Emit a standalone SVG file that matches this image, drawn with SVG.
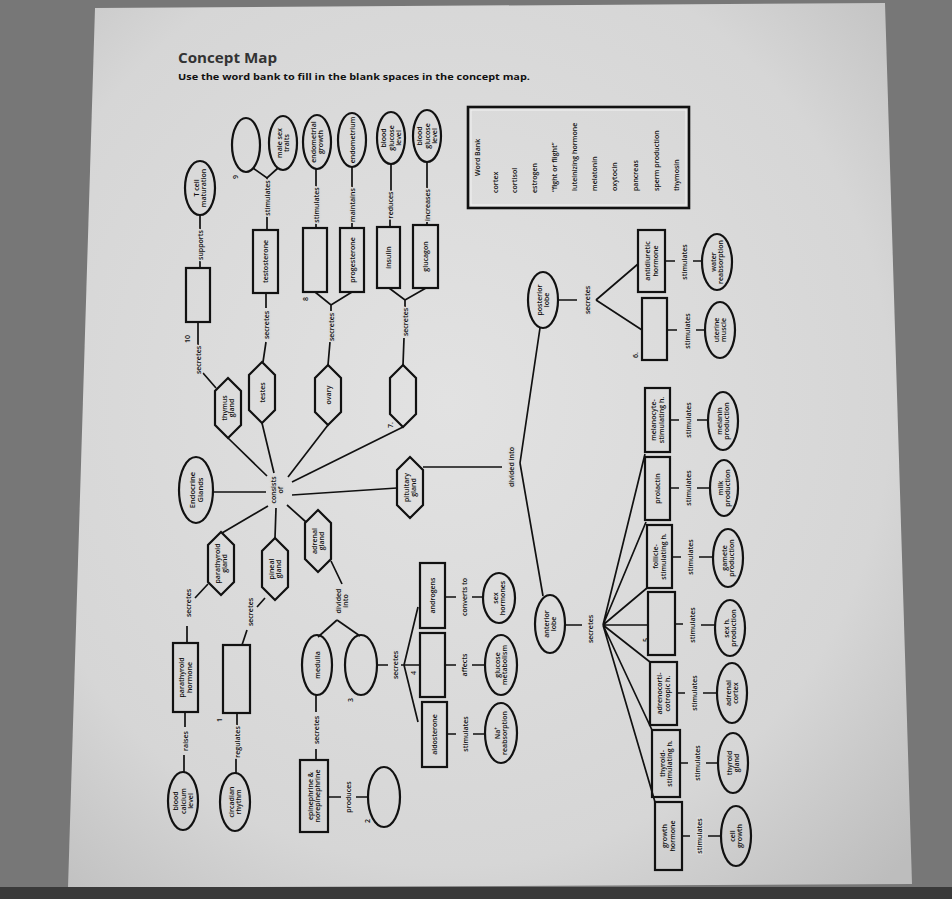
<svg xmlns="http://www.w3.org/2000/svg" width="952" height="899" viewBox="0 0 952 899">
<defs>
<radialGradient id="paper" cx="0.45" cy="0.45" r="0.75">
<stop offset="0" stop-color="#e2e2e2"/>
<stop offset="0.7" stop-color="#d6d6d6"/>
<stop offset="1" stop-color="#bdbdbd"/>
</radialGradient>
<style>
.n{fill:none;stroke:#111;stroke-width:2.2}
.c{fill:none;stroke:#111;stroke-width:1.7}
.t{font-family:"Open Sans","Liberation Sans",sans-serif;font-size:7px;font-weight:600;fill:#111;text-anchor:middle}
.k{font-family:"Open Sans","Liberation Sans",sans-serif;font-size:7px;font-weight:600;fill:#111;text-anchor:middle;stroke:#dadada;stroke-width:3;paint-order:stroke}
.w{font-family:"Open Sans","Liberation Sans",sans-serif;font-size:7px;font-weight:600;fill:#111;text-anchor:start}
</style>
</defs>
<rect x="0" y="0" width="952" height="899" fill="#777"/>
<polygon points="95,8 885,3 912,884 68,888" fill="url(#paper)"/>
<rect x="0" y="887" width="952" height="12" fill="#3a3a3a"/>

<text x="178" y="63" font-family="'Open Sans','Liberation Sans',sans-serif" font-size="14" font-weight="bold" fill="#333" textLength="99" lengthAdjust="spacingAndGlyphs">Concept Map</text>
<text x="178" y="80" font-family="'Open Sans','Liberation Sans',sans-serif" font-size="9.5" font-weight="bold" fill="#111" textLength="352" lengthAdjust="spacingAndGlyphs">Use the word bank to fill in the blank spaces in the concept map.</text>

<g id="connectors">
<path class="c" d="M200,215V232M200,258V268M198,322V346M203,373L216,388"/>
<path class="c" d="M253,168L267,178L278,168M267,178V182M267,214V230M266,293V308M266,342L263,362"/>
<path class="c" d="M316,169V190M316,221V228M352,167V192M352,219V228M315,292L331,305L352,292M331,305V311M330,342L328,365"/>
<path class="c" d="M391,164V193M390,217V227M427,162V191M427,219V225M389,288L405,300L426,288M405,300V307M404,338L403,365"/>
<path class="c" d="M213,492H266M228,438L267,476M262,423L274,473M328,425L288,477M403,427L292,482M292,495L397,488M268,506L222,533M276,508L275,538M287,505L306,522"/>
<path class="c" d="M208,584L195,598M187,626V643M265,598L257,607M247,630L242,645M331,561L342,584M337,620L318,637M337,620L360,636"/>
<path class="c" d="M185,713V727M184,755V772M237,713V727M236,756V773M316,695V712M316,749V760M328,797H341M356,797H368"/>
<path class="c" d="M377,665H388M401,665H404M418,607L404,665L418,722M404,665H420"/>
<path class="c" d="M445,597H456M472,597H483M445,665H456M472,665H485M447,734H456M473,734H485"/>
<path class="c" d="M423,467H502M520,463L540,328M520,463L543,596"/>
<path class="c" d="M558,300H577M596,300L638,264M596,300L642,330M665,261H675M693,261H702M667,330H677M696,330H705"/>
<path class="c" d="M565,625H582M603,625L645,454M603,625L646,522M603,625L647,588M603,625H648M603,625L650,662M603,625L652,730M603,625L655,802"/>
<path class="c" d="M670,420H679M697,420H708M670,488H679M697,488H710M672,557H681M699,557H713M675,624H683M701,625H715M677,693H685M703,693H717M680,763H688M706,763H718M682,836H690M708,836H722"/>
</g>

<g id="word-bank">
<rect x="468" y="107" width="221" height="101" fill="none" stroke="#111" stroke-width="2.6"/>
<rect x="471" y="110" width="215" height="95" fill="none" stroke="#f2f2f2" stroke-width="1"/>
<text class="w" transform="translate(480,176) rotate(-90)">Word Bank</text>
<text class="w" transform="translate(498,193) rotate(-90)">cortex</text>
<text class="w" transform="translate(517,193) rotate(-90)">cortisol</text>
<text class="w" transform="translate(537,193) rotate(-90)">estrogen</text>
<text class="w" transform="translate(557,192) rotate(-90)">“fight or flight”</text>
<text class="w" transform="translate(577,191) rotate(-90)">luteinizing hormone</text>
<text class="w" transform="translate(597,191) rotate(-90)">melatonin</text>
<text class="w" transform="translate(617,191) rotate(-90)">oxytocin</text>
<text class="w" transform="translate(638,191) rotate(-90)">pancreas</text>
<text class="w" transform="translate(659,191) rotate(-90)">sperm production</text>
<text class="w" transform="translate(679,191) rotate(-90)">thymosin</text>
</g>

<g id="tcell"><ellipse class="n" cx="200" cy="188" rx="15" ry="27"/><text class="t" transform="translate(200,188) rotate(-90)"><tspan x="0" y="-1.3">T cell</tspan><tspan x="0" y="6.2">maturation</tspan></text></g>
<g id="blank9"><ellipse class="n" cx="246" cy="145" rx="14" ry="27"/></g>
<g id="malesex"><ellipse class="n" cx="283" cy="143" rx="14" ry="27"/><text class="t" transform="translate(283,143) rotate(-90)"><tspan x="0" y="-1.3">male sex</tspan><tspan x="0" y="6.2">traits</tspan></text></g>
<g id="endogrowth"><ellipse class="n" cx="317" cy="142" rx="14" ry="27"/><text class="t" transform="translate(317,142) rotate(-90)"><tspan x="0" y="-1.3">endometrial</tspan><tspan x="0" y="6.2">growth</tspan></text></g>
<g id="endometrium"><ellipse class="n" cx="352" cy="140" rx="14" ry="27"/><text class="t" transform="translate(352,140) rotate(-90)"><tspan x="0" y="2.5">endometrium</tspan></text></g>
<g id="bglevel1"><ellipse class="n" cx="391" cy="138" rx="14" ry="26"/><text class="t" transform="translate(391,138) rotate(-90)"><tspan x="0" y="-5">blood</tspan><tspan x="0" y="2.5">glucose</tspan><tspan x="0" y="10">level</tspan></text></g>
<g id="bglevel2"><ellipse class="n" cx="427" cy="136" rx="14" ry="26"/><text class="t" transform="translate(427,136) rotate(-90)"><tspan x="0" y="-5">blood</tspan><tspan x="0" y="2.5">glucose</tspan><tspan x="0" y="10">level</tspan></text></g>

<g id="box10"><rect class="n" x="186" y="268" width="24" height="54"/></g>
<g id="testosterone"><rect class="n" x="253" y="230" width="25" height="63"/><text class="t" transform="translate(265.5,261.5) rotate(-90)"><tspan x="0" y="2.5">testosterone</tspan></text></g>
<g id="box8"><rect class="n" x="303" y="228" width="24" height="64"/></g>
<g id="progesterone"><rect class="n" x="340" y="228" width="24" height="64"/><text class="t" transform="translate(352,260) rotate(-90)"><tspan x="0" y="2.5">progesterone</tspan></text></g>
<g id="insulin"><rect class="n" x="377" y="227" width="23" height="61"/><text class="t" transform="translate(388.5,257.5) rotate(-90)"><tspan x="0" y="2.5">insulin</tspan></text></g>
<g id="glucagon"><rect class="n" x="413" y="225" width="25" height="63"/><text class="t" transform="translate(425.5,256.5) rotate(-90)"><tspan x="0" y="2.5">glucagon</tspan></text></g>

<g id="thymus"><polygon class="n" points="228,378 241,391 241,425 228,438 215,425 215,391"/><text class="t" transform="translate(228,408) rotate(-90)"><tspan x="0" y="-1.3">thymus</tspan><tspan x="0" y="6.2">gland</tspan></text></g>
<g id="testes"><polygon class="n" points="262,362 275,375 275,410 262,423 249,410 249,375"/><text class="t" transform="translate(262,392.5) rotate(-90)"><tspan x="0" y="2.5">testes</tspan></text></g>
<g id="ovary"><polygon class="n" points="328,365 341,378 341,412 328,425 315,412 315,378"/><text class="t" transform="translate(328,395) rotate(-90)"><tspan x="0" y="2.5">ovary</tspan></text></g>
<g id="hex7"><polygon class="n" points="403,365 416,378 416,414 403,427 390,414 390,378"/></g>
<g id="pituitary"><polygon class="n" points="410,457 423,470 423,505 410,518 397,505 397,470"/><text class="t" transform="translate(410,487.5) rotate(-90)"><tspan x="0" y="-1.3">pituitary</tspan><tspan x="0" y="6.2">gland</tspan></text></g>
<g id="parathyroidgland"><polygon class="n" points="221,532 234,545 234,582 221,595 208,582 208,545"/><text class="t" transform="translate(221,563.5) rotate(-90)"><tspan x="0" y="-1.3">parathyroid</tspan><tspan x="0" y="6.2">gland</tspan></text></g>
<g id="pineal"><polygon class="n" points="275,538 288,551 288,587 275,600 262,587 262,551"/><text class="t" transform="translate(275,569) rotate(-90)"><tspan x="0" y="-1.3">pineal</tspan><tspan x="0" y="6.2">gland</tspan></text></g>
<g id="adrenal"><polygon class="n" points="318,510 331,523 331,559 318,572 305,559 305,523"/><text class="t" transform="translate(318,541) rotate(-90)"><tspan x="0" y="-1.3">adrenal</tspan><tspan x="0" y="6.2">gland</tspan></text></g>

<g id="endocrine"><ellipse class="n" cx="196" cy="490" rx="17" ry="33"/><text class="t" transform="translate(196,490) rotate(-90)" style="font-size:7.5px"><tspan x="0" y="-1.5">Endocrine</tspan><tspan x="0" y="6.5">Glands</tspan></text></g>

<g id="pth"><rect class="n" x="173" y="643" width="25" height="69"/><text class="t" transform="translate(185.5,677.5) rotate(-90)"><tspan x="0" y="-1.3">parathyroid</tspan><tspan x="0" y="6.2">hormone</tspan></text></g>
<g id="box1"><rect class="n" x="223" y="645" width="27" height="68"/></g>
<g id="calcium"><ellipse class="n" cx="183" cy="801" rx="15" ry="29"/><text class="t" transform="translate(183,801) rotate(-90)"><tspan x="0" y="-5">blood</tspan><tspan x="0" y="2.5">calcium</tspan><tspan x="0" y="10">level</tspan></text></g>
<g id="circadian"><ellipse class="n" cx="235" cy="802" rx="15" ry="29"/><text class="t" transform="translate(235,802) rotate(-90)"><tspan x="0" y="-1.3">circadian</tspan><tspan x="0" y="6.2">rhythm</tspan></text></g>
<g id="medulla"><ellipse class="n" cx="317" cy="665" rx="15" ry="30"/><text class="t" transform="translate(317,665) rotate(-90)"><tspan x="0" y="2.5">medulla</tspan></text></g>
<g id="blank3"><ellipse class="n" cx="361" cy="665" rx="16" ry="30"/></g>
<g id="epinephrine"><rect class="n" x="300" y="760" width="28" height="72"/><text class="t" transform="translate(314,796) rotate(-90)"><tspan x="0" y="-1.3">epinephrine &amp;</tspan><tspan x="0" y="6.2">norepinephrine</tspan></text></g>
<g id="blank2"><ellipse class="n" cx="384" cy="797" rx="16" ry="30"/></g>

<g id="androgens"><rect class="n" x="420" y="563" width="25" height="65"/><text class="t" transform="translate(432.5,595.5) rotate(-90)"><tspan x="0" y="2.5">androgens</tspan></text></g>
<g id="box4"><rect class="n" x="420" y="633" width="25" height="64"/></g>
<g id="aldosterone"><rect class="n" x="422" y="702" width="25" height="65"/><text class="t" transform="translate(434.5,734.5) rotate(-90)"><tspan x="0" y="2.5">aldosterone</tspan></text></g>
<g id="sexhormones"><ellipse class="n" cx="499" cy="598" rx="16" ry="25"/><text class="t" transform="translate(499,598) rotate(-90)"><tspan x="0" y="-1.3">sex</tspan><tspan x="0" y="6.2">hormones</tspan></text></g>
<g id="glucosemet"><ellipse class="n" cx="501" cy="665" rx="16" ry="30"/><text class="t" transform="translate(501,665) rotate(-90)"><tspan x="0" y="-1.3">glucose</tspan><tspan x="0" y="6.2">metabolism</tspan></text></g>
<g id="nareabs"><ellipse class="n" cx="501" cy="733" rx="16" ry="30"/><text class="t" transform="translate(501,733) rotate(-90)"><tspan x="0" y="-1.3">Na<tspan dy="-2" style="font-size:5px">+</tspan></tspan><tspan x="0" y="6.2">reabsorption</tspan></text></g>

<g id="anterior"><ellipse class="n" cx="550" cy="624" rx="15" ry="29"/><text class="t" transform="translate(550,624) rotate(-90)"><tspan x="0" y="-1.3">anterior</tspan><tspan x="0" y="6.2">lobe</tspan></text></g>
<g id="posterior"><ellipse class="n" cx="543" cy="300" rx="15" ry="28"/><text class="t" transform="translate(543,300) rotate(-90)"><tspan x="0" y="-1.3">posterior</tspan><tspan x="0" y="6.2">lobe</tspan></text></g>

<g id="adh"><rect class="n" x="638" y="230" width="27" height="62"/><text class="t" transform="translate(651.5,261) rotate(-90)"><tspan x="0" y="-1.3">antidiuretic</tspan><tspan x="0" y="6.2">hormone</tspan></text></g>
<g id="box6"><rect class="n" x="642" y="298" width="25" height="62"/></g>
<g id="water"><ellipse class="n" cx="717" cy="262" rx="15" ry="28"/><text class="t" transform="translate(717,262) rotate(-90)"><tspan x="0" y="-1.3">water</tspan><tspan x="0" y="6.2">reabsorption</tspan></text></g>
<g id="uterine"><ellipse class="n" cx="720" cy="330" rx="15" ry="28"/><text class="t" transform="translate(720,330) rotate(-90)"><tspan x="0" y="-1.3">uterine</tspan><tspan x="0" y="6.2">muscle</tspan></text></g>

<g id="msh"><rect class="n" x="645" y="388" width="25" height="64"/><text class="t" transform="translate(657.5,420) rotate(-90)"><tspan x="0" y="-1.3">melanocyte-</tspan><tspan x="0" y="6.2">stimulating h.</tspan></text></g>
<g id="prolactin"><rect class="n" x="645" y="457" width="25" height="63"/><text class="t" transform="translate(657.5,488.5) rotate(-90)"><tspan x="0" y="2.5">prolactin</tspan></text></g>
<g id="fsh"><rect class="n" x="647" y="525" width="25" height="63"/><text class="t" transform="translate(659.5,556.5) rotate(-90)"><tspan x="0" y="-1.3">follicle-</tspan><tspan x="0" y="6.2">stimulating h.</tspan></text></g>
<g id="box5"><rect class="n" x="648" y="592" width="27" height="63"/></g>
<g id="acth"><rect class="n" x="650" y="662" width="27" height="63"/><text class="t" transform="translate(663.5,693.5) rotate(-90)"><tspan x="0" y="-1.3">adrenocorti-</tspan><tspan x="0" y="6.2">cotropic h.</tspan></text></g>
<g id="tsh"><rect class="n" x="652" y="730" width="28" height="67"/><text class="t" transform="translate(666,763.5) rotate(-90)"><tspan x="0" y="-1.3">thyroid-</tspan><tspan x="0" y="6.2">stimulating h.</tspan></text></g>
<g id="gh"><rect class="n" x="655" y="802" width="27" height="68"/><text class="t" transform="translate(668.5,836) rotate(-90)"><tspan x="0" y="-1.3">growth</tspan><tspan x="0" y="6.2">hormone</tspan></text></g>

<g id="melanin"><ellipse class="n" cx="723" cy="421" rx="15" ry="29"/><text class="t" transform="translate(723,421) rotate(-90)"><tspan x="0" y="-1.3">melanin</tspan><tspan x="0" y="6.2">production</tspan></text></g>
<g id="milk"><ellipse class="n" cx="724" cy="488" rx="14" ry="28"/><text class="t" transform="translate(724,488) rotate(-90)"><tspan x="0" y="-1.3">milk</tspan><tspan x="0" y="6.2">production</tspan></text></g>
<g id="gamete"><ellipse class="n" cx="728" cy="558" rx="15" ry="29"/><text class="t" transform="translate(728,558) rotate(-90)"><tspan x="0" y="-1.3">gamete</tspan><tspan x="0" y="6.2">production</tspan></text></g>
<g id="sexprod"><ellipse class="n" cx="730" cy="628" rx="15" ry="28"/><text class="t" transform="translate(730,628) rotate(-90)"><tspan x="0" y="-1.3">sex h.</tspan><tspan x="0" y="6.2">production</tspan></text></g>
<g id="adrcortex"><ellipse class="n" cx="732" cy="693" rx="15" ry="30"/><text class="t" transform="translate(732,693) rotate(-90)"><tspan x="0" y="-1.3">adrenal</tspan><tspan x="0" y="6.2">cortex</tspan></text></g>
<g id="thyroidgland"><ellipse class="n" cx="733" cy="763" rx="15" ry="30"/><text class="t" transform="translate(733,763) rotate(-90)"><tspan x="0" y="-1.3">thyroid</tspan><tspan x="0" y="6.2">gland</tspan></text></g>
<g id="cellgrowth"><ellipse class="n" cx="736" cy="836" rx="15" ry="30"/><text class="t" transform="translate(736,836) rotate(-90)"><tspan x="0" y="-1.3">cell</tspan><tspan x="0" y="6.2">growth</tspan></text></g>

<g id="connector-labels">
<text class="k" transform="translate(200,245) rotate(-90)" y="2.5">supports</text>
<text class="k" transform="translate(198,360) rotate(-90)" y="2.5">secretes</text>
<text class="k" transform="translate(267,198) rotate(-90)" y="2.5">stimulates</text>
<text class="k" transform="translate(266,325) rotate(-90)" y="2.5">secretes</text>
<text class="k" transform="translate(316,205) rotate(-90)" y="2.5">stimulates</text>
<text class="k" transform="translate(352,205) rotate(-90)" y="2.5">maintains</text>
<text class="k" transform="translate(331,327) rotate(-90)" y="2.5">secretes</text>
<text class="k" transform="translate(390,205) rotate(-90)" y="2.5">reduces</text>
<text class="k" transform="translate(427,205) rotate(-90)" y="2.5">increases</text>
<text class="k" transform="translate(405,322) rotate(-90)" y="2.5">secretes</text>
<text class="k" transform="translate(277,490) rotate(-90)"><tspan x="0" y="-1.3">consists</tspan><tspan x="0" y="6.2">of</tspan></text>
<text class="k" transform="translate(188,603) rotate(-90)" y="2.5">secretes</text>
<text class="k" transform="translate(250,612) rotate(-90)" y="2.5">secretes</text>
<text class="k" transform="translate(342,601) rotate(-90)"><tspan x="0" y="-1.3">divided</tspan><tspan x="0" y="6.2">into</tspan></text>
<text class="k" transform="translate(185,741) rotate(-90)" y="2.5">raises</text>
<text class="k" transform="translate(237,742) rotate(-90)" y="2.5">regulates</text>
<text class="k" transform="translate(316,730) rotate(-90)" y="2.5">secretes</text>
<text class="k" transform="translate(348,797) rotate(-90)" y="2.5">produces</text>
<text class="k" transform="translate(395,665) rotate(-90)" y="2.5">secretes</text>
<text class="k" transform="translate(464,597) rotate(-90)" y="2.5">converts to</text>
<text class="k" transform="translate(464,665) rotate(-90)" y="2.5">affects</text>
<text class="k" transform="translate(465,734) rotate(-90)" y="2.5">stimulates</text>
<text class="k" transform="translate(511,467) rotate(-90)" y="2.5">divided into</text>
<text class="k" transform="translate(587,300) rotate(-90)" y="2.5">secretes</text>
<text class="k" transform="translate(590,629) rotate(-90)" y="2.5">secretes</text>
<text class="k" transform="translate(684,262) rotate(-90)" y="2.5">stimulates</text>
<text class="k" transform="translate(687,331) rotate(-90)" y="2.5">stimulates</text>
<text class="k" transform="translate(688,420) rotate(-90)" y="2.5">stimulates</text>
<text class="k" transform="translate(688,488) rotate(-90)" y="2.5">stimulates</text>
<text class="k" transform="translate(690,557) rotate(-90)" y="2.5">stimulates</text>
<text class="k" transform="translate(692,625) rotate(-90)" y="2.5">stimulates</text>
<text class="k" transform="translate(694,693) rotate(-90)" y="2.5">stimulates</text>
<text class="k" transform="translate(697,763) rotate(-90)" y="2.5">stimulates</text>
<text class="k" transform="translate(699,836) rotate(-90)" y="2.5">stimulates</text>
</g>

<g id="numbers">
<text class="t" transform="translate(187,339) rotate(-90)" y="2.5">10</text>
<text class="t" transform="translate(235,177) rotate(-90)" y="2.5">9</text>
<text class="t" transform="translate(305,299) rotate(-90)" y="2.5">8</text>
<text class="t" transform="translate(390,425) rotate(-90)" y="2.5">7.</text>
<text class="t" transform="translate(219,720) rotate(-90)" y="2.5">1</text>
<text class="t" transform="translate(367,821) rotate(-90)" y="2.5">2</text>
<text class="t" transform="translate(350,700) rotate(-90)" y="2.5">3</text>
<text class="t" transform="translate(413,673) rotate(-90)" y="2.5">4</text>
<text class="t" transform="translate(645,640) rotate(-90)" y="2.5">5</text>
<text class="t" transform="translate(635,355) rotate(-90)" y="2.5">6.</text>
</g>
</svg>
